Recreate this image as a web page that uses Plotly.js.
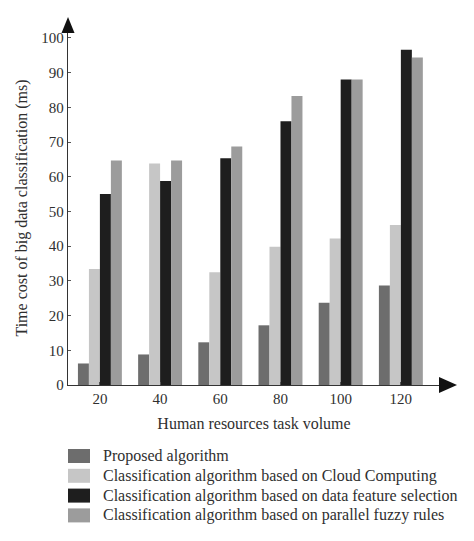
<!DOCTYPE html>
<html>
<head>
<meta charset="utf-8">
<script src="https://cdn.plot.ly/plotly-3.0.1.min.js"></script>
<style>
  html, body { margin: 0; padding: 0; background: #fff; }
  #chart { width: 474px; height: 541px; }
</style>
</head>
<body>
<div id="chart"></div>
<script>
// Task volumes on the x axis
const taskVolumes = ['20', '40', '60', '80', '100', '120'];

// Time cost (ms) for each algorithm
const proposed      = [6.2, 8.8, 12.3, 17.2, 23.7, 28.7];
const cloudBased    = [33.4, 63.8, 32.5, 39.8, 42.2, 46.1];
const featureBased  = [55.0, 58.8, 65.3, 76.0, 88.0, 96.6];
const fuzzyBased    = [64.7, 64.7, 68.7, 83.3, 88.0, 94.4];

const seriesNames = [
  'Proposed algorithm',
  'Classification algorithm based on Cloud Computing',
  'Classification algorithm based on data feature selection',
  'Classification algorithm based on parallel fuzzy rules'
];
const seriesColors = ['#6d6d6d', '#c6c6c6', '#1e1e1e', '#9c9c9c'];
const seriesValues = [proposed, cloudBased, featureBased, fuzzyBased];

const yTicks = [0, 10, 20, 30, 40, 50, 60, 70, 80, 90, 100];

const serif = 'Liberation Serif, Times New Roman, serif';
const ink = '#2f2f2f';

const traces = seriesValues.map((vals, i) => ({
  type: 'bar',
  name: seriesNames[i],
  x: taskVolumes,
  y: vals,
  marker: { color: seriesColors[i], line: { width: 0 } },
  showlegend: false,
  hoverinfo: 'x+y+name'
}));

// Axis arrows (pixel-sized triangles anchored at the axis ends)
const shapes = [
  {
    type: 'path', xref: 'paper', yref: 'paper',
    xsizemode: 'pixel', ysizemode: 'pixel', xanchor: 0, yanchor: 1,
    path: 'M -6.5,-2 L 6.5,-2 L 0,14 Z',
    fillcolor: '#111', line: { width: 0 }
  },
  {
    type: 'path', xref: 'paper', yref: 'paper',
    xsizemode: 'pixel', ysizemode: 'pixel', xanchor: 1, yanchor: 0,
    path: 'M -1,8 L -1,-8 L 17,0 Z',
    fillcolor: '#111', line: { width: 0 }
  }
];

// Legend below the axis: swatches and labels
const annotations = [];
seriesNames.forEach((name, i) => {
  const off = 71 + i * 19.8;
  shapes.push({
    type: 'rect', xref: 'paper', yref: 'paper',
    xsizemode: 'pixel', ysizemode: 'pixel', xanchor: 0, yanchor: 0,
    x0: 0, x1: 22, y0: -off - 7, y1: -off + 7,
    fillcolor: seriesColors[i], line: { width: 0 }
  });
  annotations.push({
    xref: 'paper', yref: 'paper', x: 0, y: 0,
    xshift: 33, yshift: -off, xanchor: 'left', yanchor: 'middle',
    text: name, showarrow: false,
    font: { family: serif, size: 16, color: ink }
  });
});

const layout = {
  width: 474,
  height: 541,
  margin: { l: 68, r: 34, t: 31, b: 156 },
  paper_bgcolor: '#fff',
  plot_bgcolor: '#fff',
  barmode: 'group',
  bargap: 0.27,
  bargroupgap: 0,
  showlegend: false,
  font: { family: serif, size: 15, color: ink },
  xaxis: {
    type: 'category',
    range: [-0.53, 5.65],
    showline: true, linecolor: '#333', linewidth: 1.3,
    ticks: 'inside', ticklen: 3, tickcolor: '#555',
    showgrid: false, zeroline: false,
    tickfont: { family: serif, size: 15, color: ink },
    title: { text: 'Human resources task volume', font: { family: serif, size: 16, color: ink }, standoff: 11 }
  },
  yaxis: {
    range: [0, 102],
    tickvals: yTicks,
    showline: true, linecolor: '#333', linewidth: 1.3,
    ticks: 'inside', ticklen: 3, tickcolor: '#555',
    showgrid: false, zeroline: false,
    tickfont: { family: serif, size: 15, color: ink },
    title: { text: 'Time cost of big data classification (ms)', font: { family: serif, size: 16, color: ink }, standoff: 9 }
  },
  shapes: shapes,
  annotations: annotations
};

Plotly.newPlot('chart', traces, layout, { displayModeBar: false });
</script>
</body>
</html>
